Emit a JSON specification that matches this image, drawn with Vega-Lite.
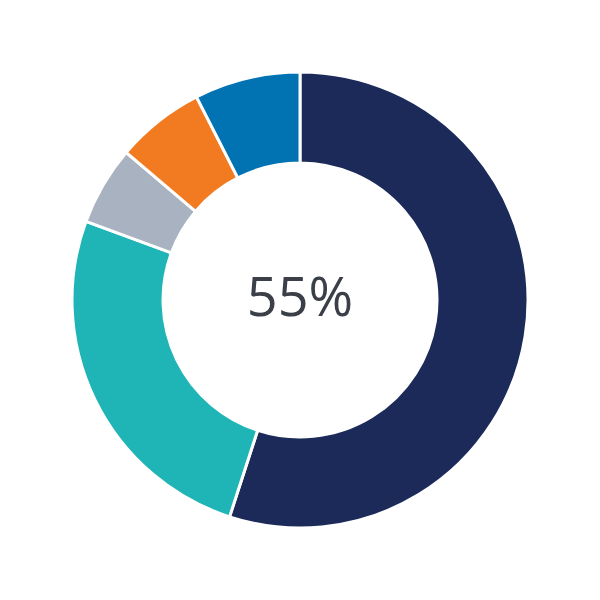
{
  "$schema": "https://vega.github.io/schema/vega-lite/v6.json",
  "width": 600,
  "height": 600,
  "padding": 0,
  "autosize": {"type": "none"},
  "background": "white",
  "config": {"view": {"stroke": null}},
  "data": {"values": [
    {"segment": "A", "order": 1, "value": 55},
    {"segment": "B", "order": 2, "value": 25.6},
    {"segment": "C", "order": 3, "value": 5.6},
    {"segment": "D", "order": 4, "value": 6.3},
    {"segment": "E", "order": 5, "value": 7.5}
  ]},
  "layer": [
    {
      "mark": {"type": "arc", "radius": 228, "radius2": 137, "stroke": "white", "strokeWidth": 3},
      "encoding": {
        "theta": {"field": "value", "type": "quantitative", "stack": true},
        "order": {"field": "order", "type": "quantitative"},
        "color": {
          "field": "segment", "type": "nominal", "legend": null,
          "scale": {"domain": ["A", "B", "C", "D", "E"], "range": ["#1b2a59", "#1fb5b6", "#a8b2c0", "#f27b21", "#0173b3"]}
        }
      }
    },
    {
      "data": {"values": [{"label": "55%"}]},
      "mark": {"type": "text", "font": "Open Sans", "fontSize": 54, "color": "#3b4048", "baseline": "middle", "align": "center", "dy": 0},
      "encoding": {"text": {"field": "label", "type": "nominal"}}
    }
  ]
}
